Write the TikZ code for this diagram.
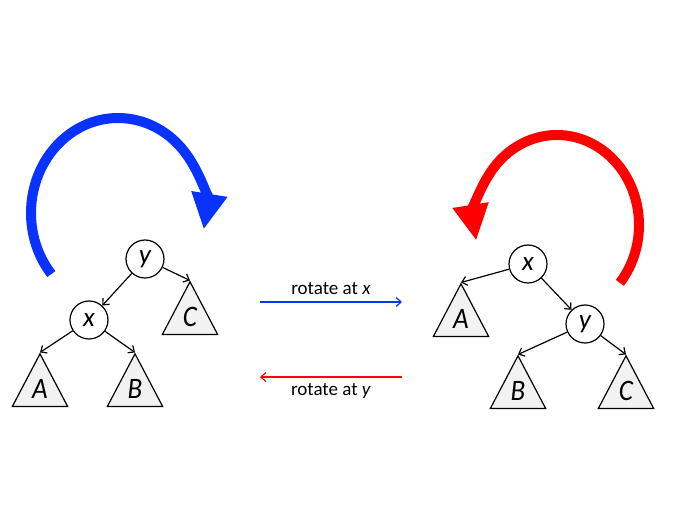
\documentclass[tikz,border=0pt]{standalone}
\usepackage{fontspec}
\setmainfont{Carlito}
\usetikzlibrary{shapes.geometric,arrows.meta}
\definecolor{turnblue}{RGB}{10,50,255}
\tikzset{
  key/.style={draw,circle,line width=1.2pt,inner sep=0pt,minimum size=38pt,font=\fontsize{27}{29}\selectfont\itshape},
  sub/.style={draw,line width=1.2pt,fill=gray!10,regular polygon,regular polygon sides=3,inner sep=0pt,minimum size=64pt,yscale=1.1,font=\fontsize{27}{29}\selectfont\itshape},
  edge/.style={->,>={Straight Barb[length=5pt,width=9pt]},line width=1.2pt},
  turn/.style={line width=10pt,-{Triangle[length=36pt,width=34pt]}},
  label/.style={font=\fontsize{19}{21}\selectfont}
}
\begin{document}
\begin{tikzpicture}[x=1pt,y=1pt]
\useasboundingbox (0,0) rectangle (675,506);
% left tree
\node (ly) [key] at (145,247) {y};
\node (lx) [key] at (89,186) {x};
\node (lC) [sub] at (190,189) {C};
\node (lA) [sub] at (40,117) {A};
\node (lB) [sub] at (135,117) {B};
\draw [edge] (ly) -- (lx);
\draw [edge] (ly) -- (lC.corner 1);
\draw [edge] (lx) -- (lA.corner 1);
\draw [edge] (lx) -- (lB.corner 1);
% right tree
\node (rx) [key] at (528,242) {x};
\node (ry) [key] at (585,182) {y};
\node (rA) [sub] at (461,187) {A};
\node (rB) [sub] at (518,115) {B};
\node (rC) [sub] at (626,115) {C};
\draw [edge] (rx) -- (rA.corner 1);
\draw [edge] (rx) -- (ry);
\draw [edge] (ry) -- (rB.corner 1);
\draw [edge] (ry) -- (rC.corner 1);
% rotation arrows
\coordinate (bs) at (260,204);
\coordinate (be) at (402,204);
\coordinate (rs) at (402,129);
\coordinate (re) at (260,129);
\draw [edge,turnblue] (bs) -- node[above=3pt,label,black] {rotate at \textit{x}} (be);
\draw [edge,red] (rs) -- node[below=3pt,label,black] {rotate at \textit{y}} (re);
% turning arcs
\draw [turn,turnblue] (118,293) ++(220:87pt and 95pt) arc[start angle=220,end angle=-10,x radius=87,y radius=95];
\draw [turn,red] (557,281) ++(-40:82pt and 90pt) arc[start angle=-40,end angle=190,x radius=82,y radius=90];
\end{tikzpicture}
\end{document}
